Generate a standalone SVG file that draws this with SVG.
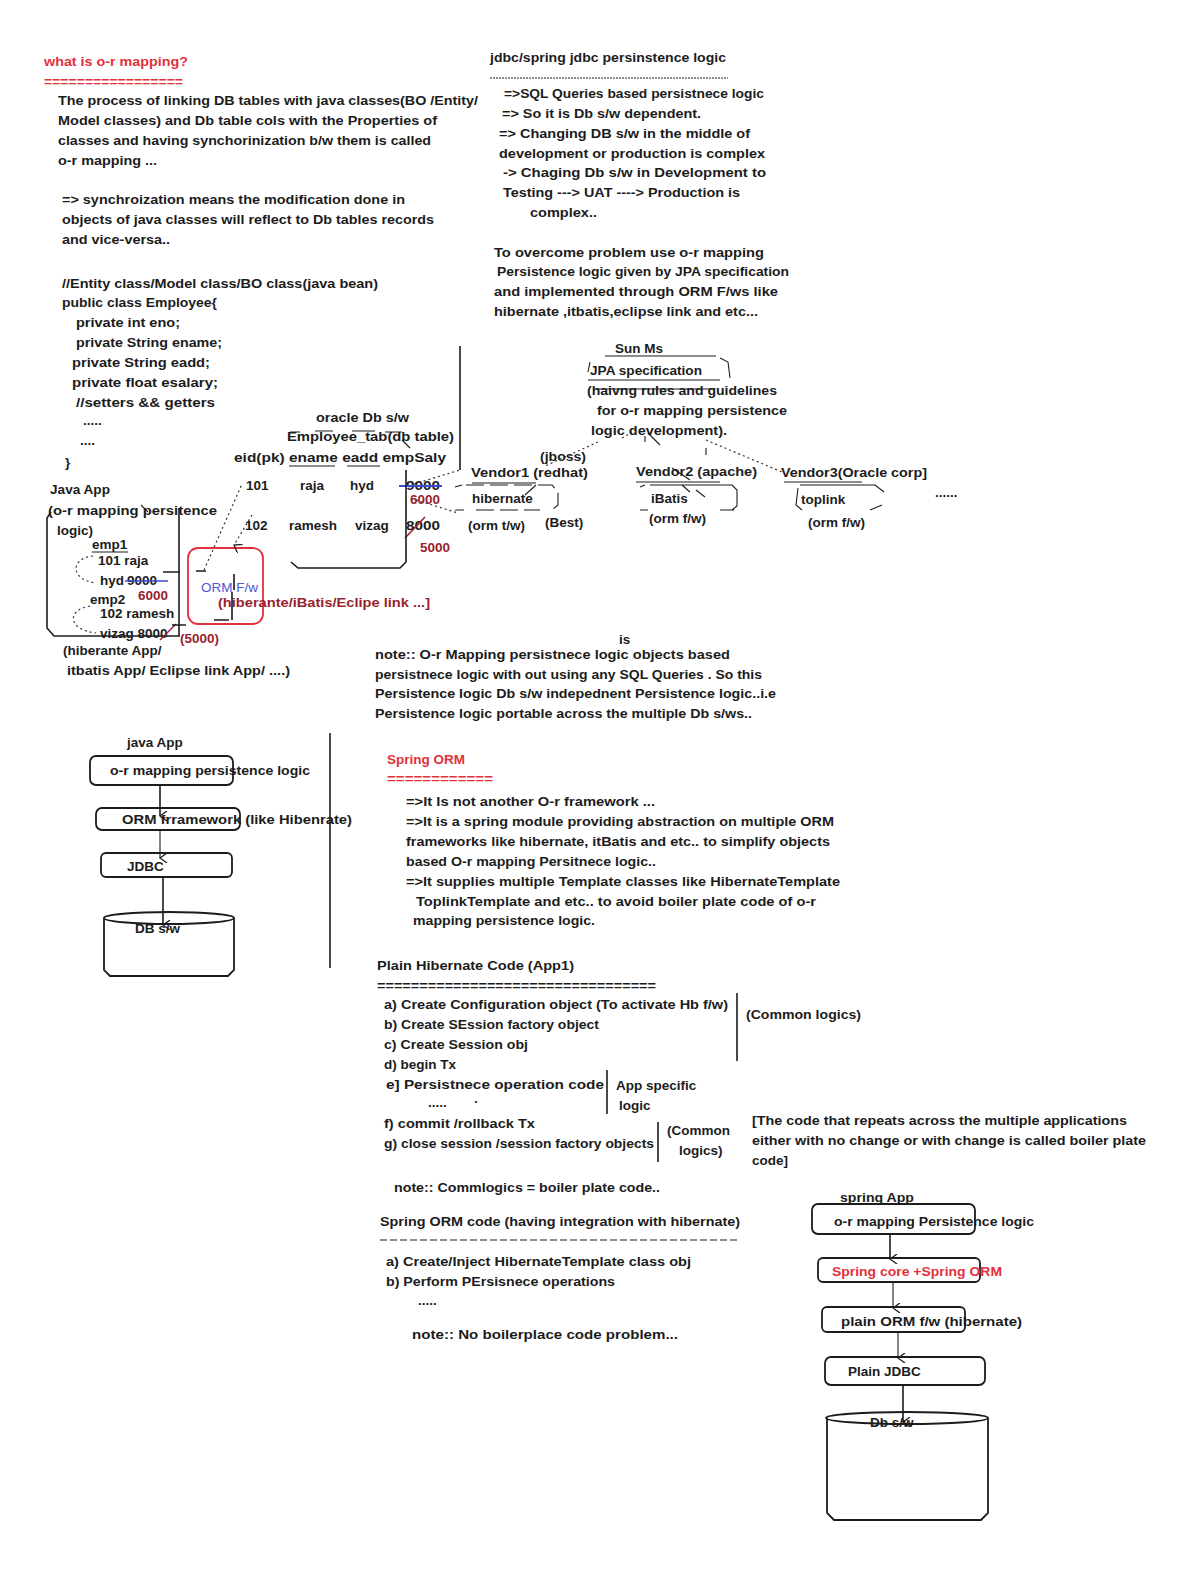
<svg xmlns="http://www.w3.org/2000/svg" width="1200" height="1581" viewBox="0 0 1200 1581">
<style>
text{font-family:"Liberation Sans",Arial,sans-serif;font-size:13.5px;font-weight:bold;fill:#1c1c1c}
.r{fill:#e2313b}
.dr{fill:#9a1f2e}
.bl{fill:#4b57d6;font-weight:normal}
.ln{stroke:#1c1c1c;stroke-width:1.6;fill:none}
.thin{stroke:#1c1c1c;stroke-width:1.1;fill:none}
.dot{stroke:#333;stroke-width:1.2;fill:none;stroke-dasharray:2,3}
.box{stroke:#1c1c1c;stroke-width:1.8;fill:none}
</style>
<defs>
<marker id="ah" viewBox="0 0 10 10" refX="5" refY="9" markerWidth="10" markerHeight="10" orient="auto-start-reverse" markerUnits="userSpaceOnUse">
<path d="M0,2 L5,9 L10,2" fill="none" stroke="#1c1c1c" stroke-width="1.3"/>
</marker>
</defs>
<rect width="1200" height="1581" fill="#fff"/>

<g id="intro">
<text x="44" y="66" class="r" textLength="144" lengthAdjust="spacingAndGlyphs">what is o-r mapping?</text>
<text x="44" y="86" class="r" textLength="139" lengthAdjust="spacingAndGlyphs">=================</text>
<text x="58" y="105" textLength="420" lengthAdjust="spacingAndGlyphs">The process of linking DB tables with  java classes(BO /Entity/</text>
<text x="58" y="125" textLength="379" lengthAdjust="spacingAndGlyphs">Model classes) and  Db table cols with the Properties of</text>
<text x="58" y="145" textLength="373" lengthAdjust="spacingAndGlyphs">classes and having synchorinization b/w them is called</text>
<text x="58" y="165" textLength="99" lengthAdjust="spacingAndGlyphs">o-r mapping ...</text>
<text x="62" y="204" textLength="343" lengthAdjust="spacingAndGlyphs">=&gt; synchroization means the modification done in</text>
<text x="62" y="224" textLength="372" lengthAdjust="spacingAndGlyphs">objects of java classes  will reflect to Db tables records</text>
<text x="62" y="244" textLength="108" lengthAdjust="spacingAndGlyphs">and vice-versa..</text>
</g>

<g id="entity-class">
<text x="62" y="288" textLength="316" lengthAdjust="spacingAndGlyphs">//Entity class/Model class/BO class(java bean)</text>
<text x="62" y="307" textLength="155" lengthAdjust="spacingAndGlyphs">public class Employee{</text>
<text x="76" y="327" textLength="104" lengthAdjust="spacingAndGlyphs">private int eno;</text>
<text x="76" y="347" textLength="146" lengthAdjust="spacingAndGlyphs">private String ename;</text>
<text x="72" y="367" textLength="138" lengthAdjust="spacingAndGlyphs">private  String eadd;</text>
<text x="72" y="387" textLength="146" lengthAdjust="spacingAndGlyphs">private  float esalary;</text>
<text x="76" y="407" textLength="139" lengthAdjust="spacingAndGlyphs">//setters &amp;&amp; getters</text>
<text x="83" y="425">.....</text>
<text x="80" y="445">....</text>
<text x="65" y="467">}</text>
</g>

<g id="jdbc-notes">
<text x="490" y="62" textLength="236" lengthAdjust="spacingAndGlyphs">jdbc/spring jdbc persinstence logic</text>
<line x1="490" y1="78" x2="728" y2="78" class="thin" stroke-dasharray="2,1"/>
<text x="504" y="98" textLength="260" lengthAdjust="spacingAndGlyphs">=&gt;SQL Queries based persistnece logic</text>
<text x="502" y="118" textLength="199" lengthAdjust="spacingAndGlyphs">=&gt; So it is Db s/w dependent.</text>
<text x="499" y="138" textLength="251" lengthAdjust="spacingAndGlyphs">=&gt; Changing DB s/w in the middle  of</text>
<text x="499" y="158" textLength="266" lengthAdjust="spacingAndGlyphs">development or production is complex</text>
<text x="503" y="177" textLength="263" lengthAdjust="spacingAndGlyphs">-&gt; Chaging  Db s/w  in Development to</text>
<text x="503" y="197" textLength="237" lengthAdjust="spacingAndGlyphs">Testing ---&gt;  UAT ----&gt; Production is</text>
<text x="530" y="217" textLength="67" lengthAdjust="spacingAndGlyphs">complex..</text>
<text x="494" y="257" textLength="270" lengthAdjust="spacingAndGlyphs">To overcome problem use  o-r mapping</text>
<text x="497" y="276" textLength="292" lengthAdjust="spacingAndGlyphs">Persistence logic given by JPA specification</text>
<text x="494" y="296" textLength="284" lengthAdjust="spacingAndGlyphs">and implemented through ORM F/ws like</text>
<text x="494" y="316" textLength="264" lengthAdjust="spacingAndGlyphs">hibernate ,itbatis,eclipse link and etc...</text>
</g>

<g id="db-table">
<line x1="460" y1="346" x2="460" y2="470" class="ln"/>
<text x="316" y="422" textLength="93" lengthAdjust="spacingAndGlyphs">oracle Db s/w</text>
<text x="287" y="441" textLength="167" lengthAdjust="spacingAndGlyphs">Employee_tab(db table)</text>
<path d="M290,432 L300,432 M315,431 L333,431 M352,431 L375,431 M385,432 L402,432" class="thin"/>
<text x="234" y="462" textLength="212" lengthAdjust="spacingAndGlyphs">eid(pk) ename  eadd  empSaly</text>
<path d="M289,466 L335,466 M347,466 L380,466" class="thin"/>
<line x1="402" y1="440" x2="410" y2="448" class="thin"/>
<text x="246" y="490">101</text>
<text x="300" y="490">raja</text>
<text x="350" y="490">hyd</text>
<text x="406" y="490" textLength="34" lengthAdjust="spacingAndGlyphs">9000</text>
<line x1="399" y1="486" x2="442" y2="486" stroke="#3b4ad0" stroke-width="2"/>
<text x="410" y="504" class="dr">6000</text>
<text x="245" y="530">102</text>
<text x="289" y="530">ramesh</text>
<text x="355" y="530">vizag</text>
<text x="406" y="530" textLength="34" lengthAdjust="spacingAndGlyphs">8000</text>
<line x1="405" y1="538" x2="425" y2="517" stroke="#a32030" stroke-width="1.6"/>
<text x="420" y="552" class="dr">5000</text>
<path d="M406,470 L406,562 L400,568 L298,568 L291,562" class="ln"/>
<path d="M414,484 L460,470 M416,500 L458,513" class="dot"/>
</g>

<g id="java-app">
<text x="50" y="494" textLength="60" lengthAdjust="spacingAndGlyphs">Java App</text>
<text x="48" y="515" textLength="169" lengthAdjust="spacingAndGlyphs">(o-r mapping  persitence</text>
<text x="57" y="535">logic)</text>
<path d="M51,512 L47,518 L47,628 L54,636 L180,636" class="ln"/>
<line x1="179" y1="508" x2="179" y2="636" class="ln"/>
<line x1="141" y1="505" x2="148" y2="512" class="thin"/>
<text x="92" y="549">emp1</text>
<line x1="92" y1="552" x2="128" y2="552" class="thin"/>
<text x="98" y="565">101 raja</text>
<text x="100" y="585">hyd</text>
<text x="127" y="585">9000</text>
<line x1="125" y1="581" x2="168" y2="581" stroke="#3b4ad0" stroke-width="1.6"/>
<text x="138" y="600" class="dr">6000</text>
<text x="90" y="604">emp2</text>
<text x="100" y="618">102 ramesh</text>
<text x="100" y="638">vizag  8000</text>
<line x1="160" y1="640" x2="176" y2="624" stroke="#a32030" stroke-width="1.4"/>
<text x="180" y="643" class="dr">(5000)</text>
<path d="M93,556 C70,558 70,580 96,583" class="dot"/>
<path d="M90,606 C66,610 68,630 96,633" class="dot"/>
<path d="M163,572 L180,572 M172,625 L186,625" class="ln"/>
<text x="63" y="655">(hiberante App/</text>
<text x="67" y="675" textLength="223" lengthAdjust="spacingAndGlyphs">itbatis App/ Eclipse link App/ ....)</text>
</g>

<g id="orm-fw">
<rect x="188" y="548" width="75" height="76" rx="10" fill="none" stroke="#e2313b" stroke-width="1.8"/>
<path d="M196,571 L206,571 M234,574 L234,590 M232,592 L232,620 M214,620 L229,620" class="ln"/>
<text x="201" y="592" class="bl">ORM F/w</text>
<text x="218" y="607" class="dr" textLength="212" lengthAdjust="spacingAndGlyphs">(hiberante/iBatis/Eclipe link ...]</text>
<path d="M204,570 L242,484" class="dot"/>
<path d="M252,515 L234,545" class="dot" marker-end="url(#ah)"/>
</g>

<g id="jpa-spec">
<text x="615" y="353">Sun Ms</text>
<line x1="605" y1="356" x2="716" y2="356" class="thin"/>
<path d="M590,362 L588,372 M588,380 L600,380 M720,358 L728,362 L730,378 M600,380 L720,380" class="thin"/>
<text x="590" y="375" font-weight="normal" textLength="112" lengthAdjust="spacingAndGlyphs">JPA specification</text>
<text x="587" y="395" textLength="190" lengthAdjust="spacingAndGlyphs">(haivng rules and guidelines</text>
<line x1="596" y1="389" x2="715" y2="389" class="thin"/>
<text x="597" y="415" textLength="190" lengthAdjust="spacingAndGlyphs">for o-r mapping persistence</text>
<text x="591" y="435" textLength="136" lengthAdjust="spacingAndGlyphs">logic  development).</text>
<path d="M598,442 L545,466 M622,438 L632,432 M706,440 L782,472" class="dot"/>
<path d="M645,436 L645,442 M648,433 L660,445 M706,448 L706,455 M672,468 L690,480 M682,485 L690,492" class="thin"/>
</g>

<g id="vendor1">
<text x="540" y="461" textLength="46" lengthAdjust="spacingAndGlyphs">(jboss)</text>
<text x="471" y="477" textLength="117" lengthAdjust="spacingAndGlyphs">Vendor1 (redhat)</text>
<line x1="472" y1="483" x2="536" y2="483" class="thin"/>
<path d="M455,487 L462,485 M466,485 L552,485 L558,492 L558,505 L552,510 M455,510 L464,510 M476,510 L540,510" class="thin" stroke-dasharray="18,6"/>
<path d="M536,485 L525,495" class="thin"/>
<text x="472" y="503">hibernate</text>
<text x="468" y="530">(orm t/w)</text>
<text x="545" y="527" font-weight="normal">(Best)</text>
</g>

<g id="vendor2">
<text x="636" y="476" textLength="121" lengthAdjust="spacingAndGlyphs">Vendor2 (apache)</text>
<line x1="636" y1="482" x2="720" y2="482" class="thin"/>
<path d="M640,487 L645,485 M650,485 L732,485 L737,490 L737,506 L732,510 M640,510 L648,510 M720,510 L734,510" class="thin"/>
<path d="M696,490 L705,497" class="thin"/>
<text x="651" y="503">iBatis</text>
<text x="649" y="523">(orm f/w)</text>
</g>

<g id="vendor3">
<text x="781" y="477" textLength="146" lengthAdjust="spacingAndGlyphs">Vendor3(Oracle corp]</text>
<line x1="784" y1="482" x2="862" y2="482" class="thin"/>
<path d="M800,485 L875,485 L884,492 M798,488 L796,505 L802,510 M870,510 L882,505" class="thin"/>
<text x="801" y="504">toplink</text>
<text x="808" y="527">(orm f/w)</text>
<text x="935" y="497">......</text>
</g>

<g id="note-portable">
<text x="619" y="644" font-size="11">is</text>
<text x="375" y="659" textLength="355" lengthAdjust="spacingAndGlyphs">note::  O-r Mapping persistnece  logic  objects based</text>
<text x="375" y="679" textLength="387" lengthAdjust="spacingAndGlyphs">persistnece  logic with out using any SQL Queries . So this</text>
<text x="375" y="698" textLength="401" lengthAdjust="spacingAndGlyphs">Persistence logic Db s/w indepednent  Persistence logic..i.e</text>
<text x="375" y="718" textLength="377" lengthAdjust="spacingAndGlyphs">Persistence logic portable across the multiple Db s/ws..</text>
</g>

<g id="java-app-stack">
<text x="127" y="747">java App</text>
<rect x="90" y="756" width="143" height="29" rx="6" class="box"/>
<text x="110" y="775" textLength="200" lengthAdjust="spacingAndGlyphs">o-r mapping persistence logic</text>
<rect x="96" y="808" width="144" height="22" rx="6" class="box"/>
<text x="122" y="824" textLength="230" lengthAdjust="spacingAndGlyphs">ORM frramework (like Hibenrate)</text>
<rect x="101" y="853" width="131" height="24" rx="5" class="box"/>
<text x="127" y="871">JDBC</text>
<path d="M104,918 L104,970 L110,976 L228,976 L234,970 L234,918" class="box"/>
<ellipse cx="169" cy="918" rx="65" ry="6" class="box"/>
<text x="135" y="933">DB s/w</text>
<line x1="330" y1="733" x2="330" y2="968" class="ln"/>
</g>

<g id="spring-orm-notes">
<text x="387" y="764" class="r">Spring ORM</text>
<text x="387" y="783" class="r" textLength="106" lengthAdjust="spacingAndGlyphs">============</text>
<text x="406" y="806" textLength="249" lengthAdjust="spacingAndGlyphs">=&gt;It Is not another O-r framework ...</text>
<text x="406" y="826" textLength="428" lengthAdjust="spacingAndGlyphs">=&gt;It is a spring module providing abstraction on  multiple ORM</text>
<text x="406" y="846" textLength="424" lengthAdjust="spacingAndGlyphs">frameworks like hibernate, itBatis and etc.. to simplify objects</text>
<text x="406" y="866" textLength="250" lengthAdjust="spacingAndGlyphs">based O-r mapping Persitnece logic..</text>
<text x="406" y="886" textLength="434" lengthAdjust="spacingAndGlyphs">=&gt;It supplies multiple Template classes  like HibernateTemplate</text>
<text x="416" y="906" textLength="400" lengthAdjust="spacingAndGlyphs">ToplinkTemplate and etc..  to avoid boiler plate code of o-r</text>
<text x="413" y="925" textLength="182" lengthAdjust="spacingAndGlyphs">mapping persistence logic.</text>
</g>

<g id="plain-hibernate">
<text x="377" y="970" textLength="197" lengthAdjust="spacingAndGlyphs">Plain Hibernate Code (App1)</text>
<text x="377" y="990" textLength="279" lengthAdjust="spacingAndGlyphs">=================================</text>
<text x="384" y="1009" textLength="344" lengthAdjust="spacingAndGlyphs">a) Create Configuration object (To activate Hb f/w)</text>
<text x="384" y="1029" textLength="215" lengthAdjust="spacingAndGlyphs">b) Create SEssion factory object</text>
<text x="384" y="1049" textLength="144" lengthAdjust="spacingAndGlyphs">c)  Create Session obj</text>
<text x="384" y="1069">d)  begin Tx</text>
<text x="386" y="1089" textLength="218" lengthAdjust="spacingAndGlyphs">e]    Persistnece operation code</text>
<text x="428" y="1107">.....</text>
<text x="474" y="1103">.</text>
<text x="384" y="1128" textLength="151" lengthAdjust="spacingAndGlyphs">f) commit /rollback Tx</text>
<text x="384" y="1148" textLength="270" lengthAdjust="spacingAndGlyphs">g) close session /session factory objects</text>
<line x1="737" y1="993" x2="737" y2="1061" class="ln"/>
<text x="746" y="1019" textLength="115" lengthAdjust="spacingAndGlyphs">(Common logics)</text>
<line x1="607" y1="1070" x2="607" y2="1114" class="ln"/>
<text x="616" y="1090">App specific</text>
<text x="619" y="1110">logic</text>
<line x1="658" y1="1122" x2="658" y2="1162" class="ln"/>
<text x="667" y="1135">(Common</text>
<text x="679" y="1155">logics)</text>
<text x="752" y="1125" textLength="375" lengthAdjust="spacingAndGlyphs">[The code that repeats across the multiple applications</text>
<text x="752" y="1145" textLength="394" lengthAdjust="spacingAndGlyphs">either with no change or with change is called boiler plate</text>
<text x="752" y="1165">code]</text>
<text x="394" y="1192" textLength="266" lengthAdjust="spacingAndGlyphs">note:: Commlogics = boiler plate code..</text>
</g>

<g id="spring-orm-code">
<text x="380" y="1226" textLength="360" lengthAdjust="spacingAndGlyphs">Spring ORM code (having integration with hibernate)</text>
<line x1="380" y1="1240" x2="740" y2="1240" class="thin" stroke-dasharray="7,3"/>
<text x="386" y="1266" textLength="305" lengthAdjust="spacingAndGlyphs">a) Create/Inject HibernateTemplate class obj</text>
<text x="386" y="1286" textLength="229" lengthAdjust="spacingAndGlyphs">b) Perform PErsisnece operations</text>
<text x="418" y="1305">.....</text>
<text x="412" y="1339" textLength="266" lengthAdjust="spacingAndGlyphs">note:: No   boilerplace code problem...</text>
</g>

<g id="spring-app-stack">
<text x="840" y="1202" textLength="74" lengthAdjust="spacingAndGlyphs">spring App</text>
<rect x="812" y="1204" width="163" height="30" rx="6" class="box"/>
<text x="834" y="1226" textLength="200" lengthAdjust="spacingAndGlyphs">o-r mapping Persistence logic</text>
<rect x="818" y="1258" width="162" height="24" rx="5" class="box"/>
<text x="832" y="1276" class="r" textLength="170" lengthAdjust="spacingAndGlyphs">Spring core +Spring ORM</text>
<rect x="822" y="1307" width="143" height="25" rx="5" class="box"/>
<text x="841" y="1326" textLength="181" lengthAdjust="spacingAndGlyphs">plain ORM f/w (hibernate)</text>
<rect x="825" y="1357" width="160" height="28" rx="6" class="box"/>
<text x="848" y="1376">Plain JDBC</text>
<path d="M827,1418 L827,1513 L834,1520 L981,1520 L988,1513 L988,1418" class="box"/>
<ellipse cx="907" cy="1418" rx="81" ry="6" class="box"/>
<text x="870" y="1427">Db s/w</text>
</g>

<g id="connectors">
<line x1="160" y1="785" x2="160" y2="816" class="ln" marker-end="url(#ah)"/>
<line x1="160" y1="830" x2="160" y2="858" class="thin" marker-end="url(#ah)"/>
<line x1="163" y1="877" x2="163" y2="925" class="ln" marker-end="url(#ah)"/>
<line x1="890" y1="1234" x2="890" y2="1259" class="ln" marker-end="url(#ah)"/>
<line x1="893" y1="1282" x2="893" y2="1308" class="thin" marker-end="url(#ah)"/>
<line x1="898" y1="1332" x2="898" y2="1358" class="thin" marker-end="url(#ah)"/>
<line x1="903" y1="1385" x2="903" y2="1422" class="ln" marker-end="url(#ah)"/>
</g>
</svg>
